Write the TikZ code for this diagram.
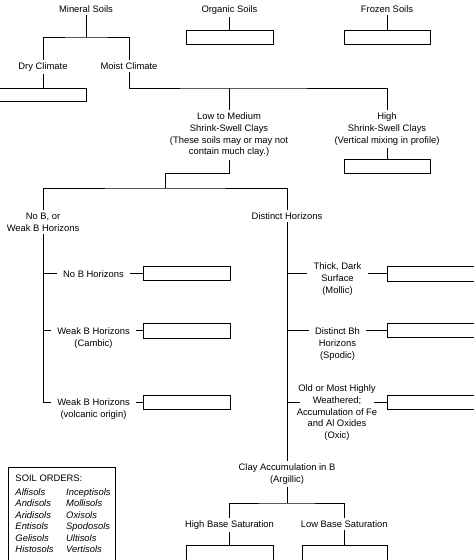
\documentclass[tikz,border=0pt]{standalone}
\usepackage{fontspec}
\setmainfont{Liberation Sans}
\begin{document}
\begin{tikzpicture}[x=1pt,y=-1pt,line width=1pt,
  every node/.style={font=\fontsize{9.4}{11.6}\selectfont},
  lbl/.style={inner xsep=0pt, inner ysep=2.5pt, anchor=base},
  mlbl/.style={align=center, inner xsep=0pt, inner ysep=2.5pt, anchor=north},
  tk/.style={inner xsep=6pt, inner ysep=2.5pt, anchor=base},
  mtk/.style={align=center, inner xsep=6pt, inner ysep=0pt, anchor=north},
  bx/.style={draw, inner sep=0pt},
  leg/.style={anchor=base west, inner sep=0pt},
  legi/.style={anchor=base west, inner sep=0pt, font=\fontsize{9.4}{11.6}\selectfont\itshape}]
\useasboundingbox (0,0) rectangle (474,560);

% top level
\node[lbl] (ms) at (86,12.4) {Mineral Soils};
\node[lbl] (os) at (229.5,12.4) {Organic Soils};
\node[lbl] (fs) at (387,12.4) {Frozen Soils};
\node[bx, minimum width=87pt, minimum height=14pt] (ob) at (229.5,37) {};
\node[bx, minimum width=86pt, minimum height=14pt] (fb) at (387,37) {};

\node[lbl] (dc) at (43,69.4) {Dry Climate};
\node[lbl] (mc) at (129,69.4) {Moist Climate};
\node[bx, minimum width=96pt, minimum height=13pt] (dcb) at (38,94.5) {};

\node[mlbl] (lm) at (229,110.1) {Low to Medium\\Shrink-Swell Clays\\(These soils may or may not\\contain much clay.)};
\node[mlbl] (hi) at (387,110.1) {High\\Shrink-Swell Clays\\(Vertical mixing in profile)};
\node[bx, minimum width=86pt, minimum height=14pt] (hb) at (387,166) {};

\node[mlbl] (nob) at (43,210.1) {No B, or\\Weak B Horizons};
\node[lbl] (dh) at (287,219.4) {Distinct Horizons};

% left branch
\node[tk] (t1) at (93.5,277.4) {No B Horizons};
\node[mtk] (t2) at (93.5,327.6) {Weak B Horizons\\(Cambic)};
\node[mtk] (t3) at (93.5,398.6) {Weak B Horizons\\(volcanic origin)};
\node[bx, minimum width=87pt, minimum height=14pt] (nb1) at (186.5,273) {};
\node[bx, minimum width=87pt, minimum height=15pt] (nb2) at (186.5,330.5) {};
\node[bx, minimum width=87pt, minimum height=14pt] (nb3) at (186.5,402) {};

% right branch
\node[mtk] (r1) at (337.5,262.6) {Thick, Dark\\Surface\\(Mollic)};
\node[mtk] (r2) at (337.5,327.6) {Distinct Bh\\Horizons\\(Spodic)};
\node[mtk] (r3) at (337,384.6) {Old or Most Highly\\Weathered;\\Accumulation of Fe\\and Al Oxides\\(Oxic)};
\node[bx, minimum width=96pt, minimum height=15pt] (db1) at (435,273.5) {};
\node[bx, minimum width=96pt, minimum height=14pt] (db2) at (435,330) {};
\node[bx, minimum width=96pt, minimum height=14pt] (db3) at (435,402) {};
\coordinate (r3l) at (300,402);
\coordinate (r3r) at (374,402);

\node[mlbl] (ca) at (287,461.1) {Clay Accumulation in B\\(Argillic)};
\node[lbl] (hbs) at (229.5,527.4) {High Base Saturation};
\node[lbl] (lbs) at (344.2,527.4) {Low Base Saturation};
\node[bx, minimum width=87pt, minimum height=30pt] (hbb) at (229.5,560) {};
\node[bx, minimum width=85pt, minimum height=30pt] (lbb) at (344.5,560) {};

% junctions
\coordinate (j1) at (86,37);
\coordinate (j2) at (229,88);
\coordinate (j3) at (165,173);
\coordinate (j4) at (165,188);
\coordinate (j5) at (287,503);

% connectors
\draw (ms.south) -- (j1);
\draw (dc.north) |- (j1) -| (mc.north);
\draw (os.south) -- (os.south |- ob.north);
\draw (fs.south) -- (fs.south |- fb.north);
\draw (dc.south) -- (dc.south |- dcb.north);
\draw (mc.south) |- (j2) -| (hi.north);
\draw (j2) -- (lm.north);
\draw (hi.south) -- (hi.south |- hb.north);
\draw (lm.south) |- (j3) -- (j4);
\draw (nob.north) |- (j4) -| (dh.north);

\draw (nob.south) |- (t3.west |- nb3.west);
\draw (nob.south |- nb1.west) -- (t1.west |- nb1.west);
\draw (t1.east |- nb1.west) -- (nb1.west);
\draw (nob.south |- nb2.west) -- (t2.west |- nb2.west);
\draw (t2.east |- nb2.west) -- (nb2.west);
\draw (t3.east |- nb3.west) -- (nb3.west);

\draw (dh.south) -- (ca.north);
\draw (dh.south |- db1.west) -- (r1.west |- db1.west);
\draw (r1.east |- db1.west) -- (db1.west);
\draw (dh.south |- db2.west) -- (r2.west |- db2.west);
\draw (r2.east |- db2.west) -- (db2.west);
\draw (dh.south |- db3.west) -- (r3l);
\draw (r3r) -- (db3.west);

\draw (ca.south) -- (j5);
\draw (hbs.north) |- (j5) -| (lbs.north);
\draw (hbs.south) -- (hbs.south |- hbb.north);
\draw (lbs.south) -- (lbs.south |- lbb.north);

% legend
\node[bx, minimum width=107pt, minimum height=140pt] (lg) at (61.5,537) {};
\node[leg] (lgt) at (15,481.5) {SOIL ORDERS:};
\node[legi] (a1) at (15,495.4) {Alfisols};
\node[legi] (a2) at (15,506.8) {Andisols};
\node[legi] (a3) at (15,518.2) {Aridisols};
\node[legi] (a4) at (15,529.6) {Entisols};
\node[legi] (a5) at (15,541) {Gelisols};
\node[legi] (a6) at (15,552.4) {Histosols};
\node[legi] (b1) at (65.7,495.4) {Inceptisols};
\node[legi] (b2) at (65.7,506.8) {Mollisols};
\node[legi] (b3) at (65.7,518.2) {Oxisols};
\node[legi] (b4) at (65.7,529.6) {Spodosols};
\node[legi] (b5) at (65.7,541) {Ultisols};
\node[legi] (b6) at (65.7,552.4) {Vertisols};
\end{tikzpicture}
\end{document}
